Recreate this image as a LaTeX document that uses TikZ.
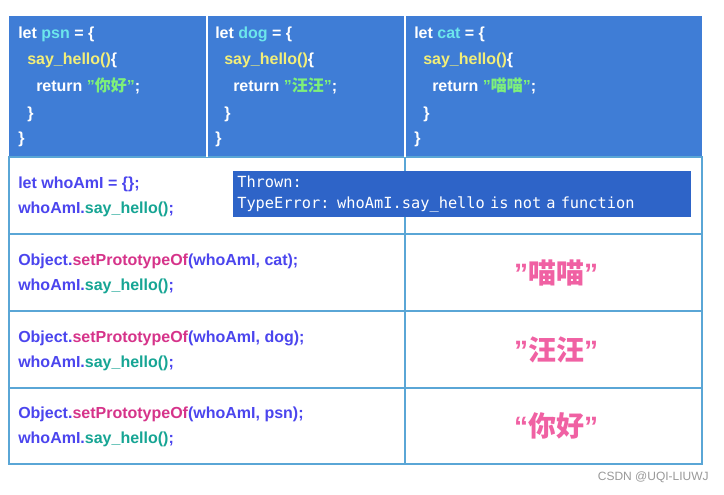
\documentclass[tikz,border=0pt]{standalone}
\usepackage{fontspec}
\setmainfont{Liberation Sans}
\newfontfamily\cjk{Noto Sans CJK SC}
\newfontfamily\mono{DejaVu Sans Mono}
\definecolor{hdr}{HTML}{3F7DD6}
\definecolor{grid}{HTML}{5AA6D6}
\definecolor{kcyan}{HTML}{6CE6EC}
\definecolor{kyel}{HTML}{F2EE78}
\definecolor{kgrn}{HTML}{7EF07A}
\definecolor{kblue}{HTML}{4B45EE}
\definecolor{kteal}{HTML}{16A594}
\definecolor{kmag}{HTML}{D6338A}
\definecolor{kpink}{HTML}{F061A3}
\definecolor{errbg}{HTML}{2E64C8}
\begin{document}
\begin{tikzpicture}[x=0.75pt,y=-0.75pt,
  code/.style={anchor=west,inner sep=0pt,font=\bfseries\fontsize{12}{14}\selectfont},
  res/.style={inner sep=0pt,text=kpink,font=\bfseries\fontsize{21}{24}\selectfont}]
\useasboundingbox (0,0) rectangle (724,495);
\fill[white] (0,0) rectangle (724,495);
\fill[hdr] (9,16) rectangle (702,157);
\draw[grid,line width=0.8pt] (9,157) rectangle (702,464);
\foreach \yy in {234,311,388} \draw[grid,line width=0.8pt] (9,\yy) -- (702,\yy);
\draw[grid,line width=0.8pt] (405,157) -- (405,464);
\draw[white,line width=1pt] (207,16) -- (207,157);
\draw[white,line width=1pt] (405,16) -- (405,157);
% header columns
\foreach \n/\x/\nm/\str in {a/18/psn/你好,b/215/dog/汪汪,c/414/cat/喵喵}{
  \node[code,text=white] (\n1) at (\x,34) {let \textcolor{kcyan}{\nm} = \{};
  \node[code,text=kyel] (\n2) at (\x+9,60) {say\_hello()\textcolor{white}{\{}};
  \node[code,text=white] (\n3) at (\x+18,86) {return \textcolor{kgrn}{"{\cjk\bfseries \str}"};};
  \node[code,text=white] (\n4) at (\x+9,114) {\}};
  \node[code,text=white] (\n5) at (\x,139) {\}};
}
% row 1
\node[code,text=kblue] (r1a) at (18,184) {let whoAmI = \{\};};
\node[code,text=kblue] (r1b) at (18,209) {whoAmI.\textcolor{kteal}{say\_hello()};};
\node[fill=errbg,text=white,anchor=north west,minimum width=458*0.75pt,minimum height=46*0.75pt,inner sep=2pt,align=left,
  font=\mono\fontsize{11.5}{16}\selectfont,text width=450*0.75pt] (err) at (233,171)
  {Thrown:\\TypeError: whoAmI.say\_hello is not a function};
% rows 2-4
\foreach \r/\yy/\nm/\str/\q in {2/261/cat/喵喵/",3/338/dog/汪汪/",4/414/psn/你好/“}{
  \node[code,text=kblue] (r\r a) at (18,\yy) {Object.\textcolor{kmag}{setPrototypeOf}(whoAmI, \nm);};
  \node[code,text=kblue] (r\r b) at (18,\yy+25) {whoAmI.\textcolor{kteal}{say\_hello()};};
  \node[res] (v\r) at (556,\yy+12) {\q{\cjk\bfseries \str}"};
}
\node[anchor=east,inner sep=0pt,text=gray!80,font=\fontsize{9}{10}\selectfont] (wm) at (709,477) {CSDN @UQI-LIUWJ};
\end{tikzpicture}
\end{document}
